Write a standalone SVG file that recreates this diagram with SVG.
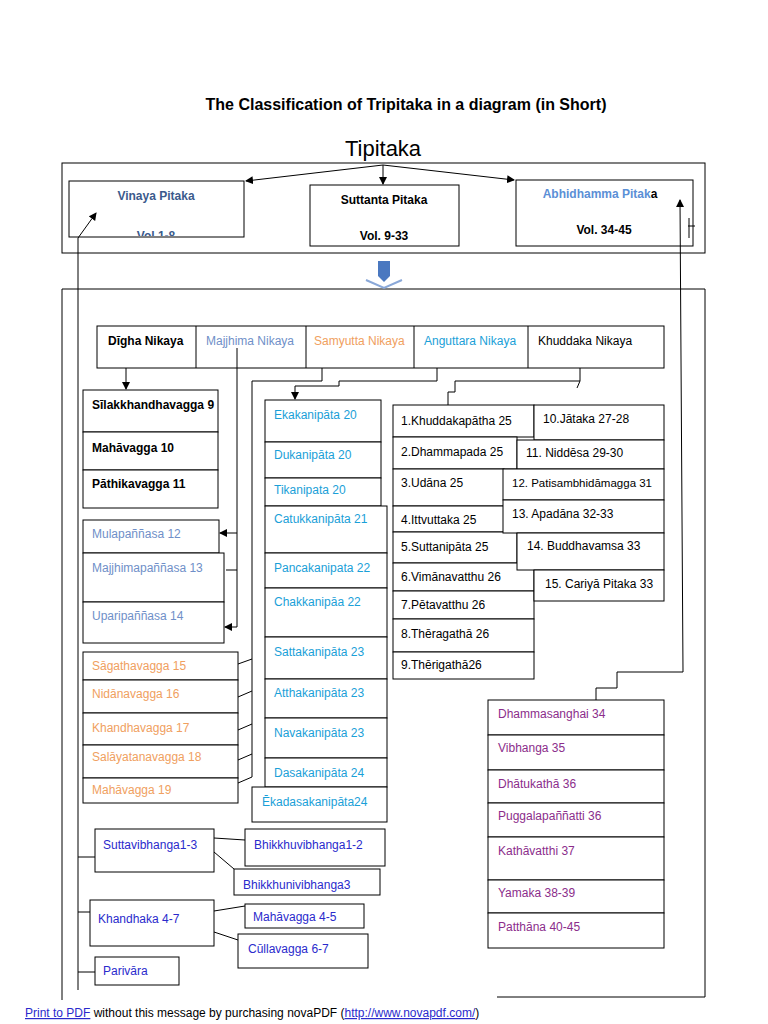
<svg xmlns="http://www.w3.org/2000/svg" width="768" height="1024" viewBox="0 0 768 1024">
<defs>
<marker id="ah" markerWidth="8" markerHeight="8" refX="7" refY="4" orient="auto" markerUnits="userSpaceOnUse"><path d="M0,0 L8,4 L0,8 z" fill="#000"/></marker>
<style>
text{font-family:"Liberation Sans",Arial,sans-serif;font-size:12px}
.b{fill:#fff;stroke:#000;stroke-width:1}
.l{fill:none;stroke:#000;stroke-width:1}
.a{fill:none;stroke:#000;stroke-width:1;marker-end:url(#ah)}
.k{fill:#000}.bd{font-weight:bold}
.vi{fill:#3b5a8c;font-weight:bold}
.ab{fill:#5b8fd6;font-weight:bold}
.mj{fill:#6f8fc8}.sm{fill:#f0a060}.ag{fill:#1aa0d8}.pu{fill:#8b2d8b}.vb{fill:#2a2acc}
</style>
</defs>
<rect width="768" height="1024" fill="#fff"/>
<text x="406" y="110" text-anchor="middle" class="bd" style="font-size:16px">The Classification of Tripitaka in a diagram (in Short)</text>
<text x="383" y="156" text-anchor="middle" style="font-size:22px">Tipitaka</text>
<g id="frames"><rect x="62" y="163" width="643" height="90" class="l"/>
<polyline points="62,289 705,289 705,997 497,997" class="l"/><line x1="62" y1="289" x2="62" y2="1000" class="l"/></g>
<g id="vinaya"><rect x="69" y="181" width="175" height="56" class="b"/><text x="156" y="200" text-anchor="middle" class="vi">Vinaya Pitaka</text>
<svg x="69" y="181" width="175" height="55"><text x="87" y="59" text-anchor="middle" class="vi">Vol.1-8</text></svg></g>
<g id="suttanta"><rect x="310" y="185" width="149" height="61" class="b"/><text x="384" y="204" text-anchor="middle" class="bd">Suttanta Pitaka</text><text x="384" y="240" text-anchor="middle" class="bd">Vol. 9-33</text></g>
<g id="abhidhamma"><rect x="516" y="180" width="177" height="66" class="b"/><text x="600" y="198" text-anchor="middle" class="ab">Abhidhamma Pitak<tspan fill="#000">a</tspan></text><text x="604" y="234" text-anchor="middle" class="bd">Vol. 34-45</text></g>
<g id="downarrow"><path d="M378,261 h12 v15 l-6,6 l-6,-6 z" fill="#4a78c0"/><path d="M366,280 l18,8 l18,-8" fill="none" stroke="#8aa8d8" stroke-width="2"/></g>
<g id="nikayas">
<rect x="97" y="326" width="567" height="42" class="b"/>
<line x1="196" y1="326" x2="196" y2="368" class="l"/><line x1="306" y1="326" x2="306" y2="368" class="l"/><line x1="414" y1="326" x2="414" y2="368" class="l"/><line x1="528" y1="326" x2="528" y2="368" class="l"/>
<text x="108" y="345" class="bd">Dīgha Nikaya</text><text x="206" y="345" class="mj">Majjhima Nikaya</text><text x="314" y="345" class="sm">Samyutta Nikaya</text><text x="424" y="345" class="ag">Anguttara Nikaya</text><text x="538" y="345">Khuddaka Nikaya</text></g>
<g id="digha"><rect x="83" y="390" width="135" height="42" class="b"/><rect x="83" y="432" width="135" height="38" class="b"/><rect x="83" y="470" width="135" height="38" class="b"/>
<text x="92" y="409" class="bd">Sīlakkhandhavagga 9</text><text x="92" y="452" class="bd">Mahāvagga 10</text><text x="92" y="488" class="bd">Pāthikavagga 11</text></g>
<g id="majjhima"><rect x="83" y="520" width="136" height="33" class="b"/><rect x="83" y="553" width="141" height="49" class="b"/><rect x="83" y="602" width="141" height="41" class="b"/>
<text x="92" y="538" class="mj">Mulapaññasa 12</text><text x="92" y="572" class="mj">Majjhimapaññasa  13</text><text x="92" y="620" class="mj">Uparipaññasa 14</text></g>
<g id="samyutta"><rect x="83" y="652" width="155" height="28" class="b"/><rect x="83" y="680" width="155" height="33" class="b"/><rect x="83" y="713" width="155" height="32" class="b"/><rect x="83" y="745" width="155" height="33" class="b"/><rect x="83" y="778" width="155" height="25" class="b"/>
<text x="92" y="670" class="sm">Sāgathavagga 15</text><text x="92" y="698" class="sm">Nidānavagga 16</text><text x="92" y="732" class="sm">Khandhavagga 17</text><text x="92" y="761" class="sm">Salāyatanavagga 18</text><text x="92" y="794" class="sm">Mahāvagga 19</text></g>
<g id="anguttara">
<rect x="265" y="400" width="116" height="42" class="b"/><rect x="265" y="442" width="116" height="36" class="b"/><rect x="265" y="478" width="116" height="28" class="b"/>
<rect x="265" y="506" width="122" height="47" class="b"/><rect x="265" y="553" width="122" height="35" class="b"/><rect x="265" y="588" width="122" height="49" class="b"/><rect x="265" y="637" width="122" height="42" class="b"/><rect x="265" y="679" width="122" height="39" class="b"/><rect x="265" y="718" width="122" height="40" class="b"/><rect x="265" y="758" width="122" height="29" class="b"/><rect x="252" y="787" width="135" height="35" class="b"/>
<text x="274" y="419" class="ag">Ekakanipāta 20</text><text x="274" y="459" class="ag">Dukanipāta 20</text><text x="274" y="494" class="ag">Tikanipata 20</text><text x="274" y="523" class="ag">Catukkanipāta 21</text><text x="274" y="572" class="ag">Pancakanipata 22</text><text x="274" y="606" class="ag">Chakkanipāa 22</text><text x="274" y="656" class="ag">Sattakanipāta 23</text><text x="274" y="697" class="ag">Atthakanipāta 23</text><text x="274" y="737" class="ag">Navakanipāta 23</text><text x="274" y="777" class="ag">Dasakanipāta 24</text><text x="262" y="806" class="ag">Ēkadasakanipāta24</text></g>
<g id="khuddaka">
<rect x="393" y="405" width="141" height="32" class="b"/><rect x="393" y="437" width="124" height="32" class="b"/><rect x="393" y="469" width="111" height="37" class="b"/><rect x="393" y="506" width="111" height="26" class="b"/><rect x="393" y="532" width="124" height="31" class="b"/><rect x="393" y="563" width="141" height="28" class="b"/><rect x="393" y="591" width="141" height="28" class="b"/><rect x="393" y="619" width="141" height="33" class="b"/><rect x="393" y="652" width="141" height="27" class="b"/>
<rect x="534" y="405" width="130" height="35" class="b"/><rect x="517" y="440" width="147" height="29" class="b"/><rect x="503" y="469" width="161" height="31" class="b"/><rect x="503" y="500" width="161" height="33" class="b"/><rect x="517" y="533" width="147" height="37" class="b"/><rect x="534" y="570" width="130" height="31" class="b"/>
<text x="401" y="425">1.Khuddakapātha 25</text><text x="401" y="456">2.Dhammapada 25</text><text x="401" y="487">3.Udāna 25</text><text x="401" y="524">4.Ittvuttaka 25</text><text x="401" y="551">5.Suttanipāta 25</text><text x="401" y="581">6.Vimānavatthu 26</text><text x="401" y="609">7.Pētavatthu 26</text><text x="401" y="638">8.Thēragathā 26</text><text x="401" y="669">9.Thērigathā26</text>
<text x="543" y="423">10.Jātaka 27-28</text><text x="526" y="457">11. Niddēsa 29-30</text><text x="512" y="487" style="font-size:11.5px">12. Patisambhidāmagga 31</text><text x="512" y="518">13. Apadāna 32-33</text><text x="527" y="550">14. Buddhavamsa 33</text><text x="545" y="588">15. Cariyā Pitaka 33</text></g>
<g id="abhidhammabooks">
<rect x="488" y="700" width="176" height="35" class="b"/><rect x="488" y="735" width="176" height="35" class="b"/><rect x="488" y="770" width="176" height="33" class="b"/><rect x="488" y="803" width="176" height="34" class="b"/><rect x="488" y="837" width="176" height="43" class="b"/><rect x="488" y="880" width="176" height="33" class="b"/><rect x="488" y="913" width="176" height="35" class="b"/>
<text x="498" y="718" class="pu">Dhammasanghai 34</text><text x="498" y="752" class="pu">Vibhanga 35</text><text x="498" y="788" class="pu">Dhātukathā 36</text><text x="498" y="820" class="pu">Puggalapaññatti 36</text><text x="498" y="855" class="pu">Kathāvatthi 37</text><text x="498" y="897" class="pu">Yamaka 38-39</text><text x="498" y="931" class="pu">Patthāna 40-45</text></g>
<g id="vinayabooks">
<rect x="95" y="829" width="119" height="43" class="b"/><rect x="245" y="829" width="140" height="37" class="b"/><rect x="234" y="869" width="146" height="26" class="b"/><rect x="90" y="900" width="124" height="46" class="b"/><rect x="245" y="904" width="119" height="24" class="b"/><rect x="238" y="934" width="130" height="34" class="b"/><rect x="95" y="957" width="84" height="28" class="b"/>
<text x="103" y="849" class="vb">Suttavibhanga1-3</text><text x="254" y="849" class="vb">Bhikkhuvibhanga1-2</text><text x="243" y="889" class="vb">Bhikkhunivibhanga3</text><text x="98" y="923" class="vb">Khandhaka 4-7</text><text x="253" y="921" class="vb">Mahāvagga 4-5</text><text x="248" y="953" class="vb">Cūllavagga 6-7</text><text x="103" y="975" class="vb">Parivāra</text></g>
<g id="connectors">
<line x1="383" y1="165" x2="246" y2="181" class="a"/><line x1="383" y1="165" x2="383" y2="184" class="a"/><line x1="383" y1="165" x2="514" y2="180" class="a"/>
<line x1="126" y1="368" x2="126" y2="389" class="a"/>
<polyline points="237,348 237,627" class="l"/><line x1="237" y1="533" x2="220" y2="533" class="a"/><line x1="237" y1="570" x2="226" y2="570" class="l"/><line x1="237" y1="627" x2="225" y2="627" class="a"/>
<polyline points="322,368 322,381 252,381 252,777" class="l"/>
<line x1="238" y1="664" x2="252" y2="659" class="l"/><line x1="238" y1="697" x2="252" y2="691" class="l"/><line x1="238" y1="730" x2="252" y2="724" class="l"/><line x1="238" y1="760" x2="252" y2="754" class="l"/><line x1="238" y1="783" x2="252" y2="777" class="l"/>
<polyline points="437,368 437,381 339,381 339,386 295,386 295,399" class="a"/>
<polyline points="580,368 580,381 455,381 455,392 448,392 448,405" class="l"/><line x1="580" y1="381" x2="577" y2="388" class="l"/>
<polyline points="596,700 596,688 617,688 617,672 683,672 680,200" class="a"/>
<line x1="689" y1="218" x2="689" y2="238" class="l"/><line x1="688" y1="226" x2="695" y2="226" class="l"/>
<polyline points="78,990 78,238 96,213" class="a"/>
<line x1="78" y1="857" x2="95" y2="857" class="l"/><line x1="78" y1="912" x2="90" y2="912" class="l"/><line x1="78" y1="972" x2="95" y2="972" class="l"/>
<line x1="214" y1="838" x2="245" y2="840" class="l"/><line x1="214" y1="852" x2="234" y2="869" class="l"/><line x1="214" y1="911" x2="245" y2="906" class="l"/><line x1="214" y1="932" x2="238" y2="940" class="l"/>
</g>
<text x="25" y="1017"><tspan fill="#2a2acc" text-decoration="underline">Print to PDF</tspan> without this message by purchasing novaPDF (<tspan fill="#2a2acc" text-decoration="underline">http://www.novapdf.com/</tspan>)</text>
</svg>
